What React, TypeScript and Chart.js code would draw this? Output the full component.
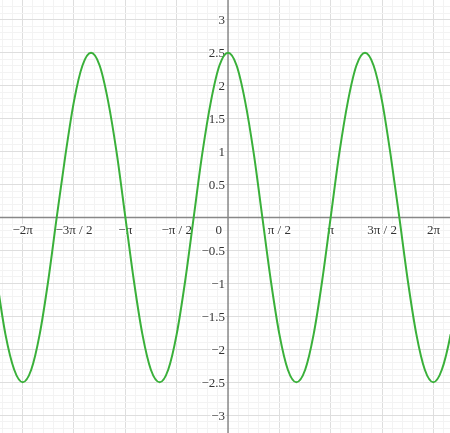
import React, { useRef, useEffect } from 'react';
import { Chart, registerables } from 'chart.js';

Chart.register(...registerables);

// curve samples (x in radians)
const xValues = [
  -7.07, -6.81, -6.54, -6.28, -6.02, -5.76, -5.5, -5.24, -4.97, -4.71, -4.45, -4.19, -3.93, -3.67,
  -3.4, -3.14, -2.88, -2.62, -2.36, -2.09, -1.83, -1.57, -1.31, -1.05, -0.79, -0.52, -0.26, 0,
  0.26, 0.52, 0.79, 1.05, 1.31, 1.57, 1.83, 2.09, 2.36, 2.62, 2.88, 3.14, 3.4, 3.67,
  3.93, 4.19, 4.45, 4.71, 4.97, 5.24, 5.5, 5.76, 6.02, 6.28, 6.54, 6.81, 7.07,
];
const yValues = [
  -0.96, -1.77, -2.31, -2.5, -2.31, -1.77, -0.96, 0, 0.96, 1.77, 2.31, 2.5, 2.31, 1.77,
  0.96, 0, -0.96, -1.77, -2.31, -2.5, -2.31, -1.77, -0.96, 0, 0.96, 1.77, 2.31, 2.5,
  2.31, 1.77, 0.96, 0, -0.96, -1.77, -2.31, -2.5, -2.31, -1.77, -0.96, 0, 0.96, 1.77,
  2.31, 2.5, 2.31, 1.77, 0.96, 0, -0.96, -1.77, -2.31, -2.5, -2.31, -1.77, -0.96,
];

// axis labels (x positions in multiples of pi)
const xTickPi = [-2, -1.5, -1, -0.5, 0.5, 1, 1.5, 2];
const xTickLabels = ['−2π', '−3π / 2', '−π', '−π / 2', 'π / 2', 'π', '3π / 2', '2π'];
const yTickValues = [-3, -2.5, -2, -1.5, -1, -0.5, 0.5, 1, 1.5, 2, 2.5, 3];
const yTickLabels = ['−3', '−2.5', '−2', '−1.5', '−1', '−0.5', '0.5', '1', '1.5', '2', '2.5', '3'];

const X_MIN = -6.975;
const X_MAX = 6.79;
const Y_MIN = -3.27;
const Y_MAX = 3.3;

const FONT = '13px "Liberation Serif", "Times New Roman", serif';

const gridColor = (ctx: any) => {
  const i = Math.round(ctx.tick.value / ctx.scale.options.minorStep);
  if (i === 0) return 'rgba(0,0,0,0)';
  return i % 5 === 0 ? '#dedede' : '#f3f3f3';
};

const buildGrid = (step: number) => (scale: any) => {
  const ticks = [];
  const from = Math.ceil(scale.min / step);
  const to = Math.floor(scale.max / step);
  for (let i = from; i <= to; i++) ticks.push({ value: i * step });
  scale.ticks = ticks;
};

const axesPlugin = {
  id: 'graphAxes',
  beforeDatasetsDraw(chart: any) {
    const { ctx, chartArea, scales } = chart;
    const x0 = scales.x.getPixelForValue(0);
    const y0 = scales.y.getPixelForValue(0);
    ctx.save();
    ctx.strokeStyle = '#888888';
    ctx.lineWidth = 1.5;
    ctx.beginPath();
    ctx.moveTo(chartArea.left, y0);
    ctx.lineTo(chartArea.right, y0);
    ctx.moveTo(x0, chartArea.top);
    ctx.lineTo(x0, chartArea.bottom);
    ctx.stroke();

    ctx.font = FONT;
    ctx.lineWidth = 3;
    ctx.strokeStyle = '#ffffff';
    ctx.fillStyle = '#333333';
    ctx.lineJoin = 'round';

    const label = (text: string, x: number, y: number) => {
      ctx.strokeText(text, x, y);
      ctx.fillText(text, x, y);
    };

    ctx.textAlign = 'center';
    ctx.textBaseline = 'middle';
    xTickPi.forEach((v, i) => {
      label(xTickLabels[i], scales.x.getPixelForValue(v * Math.PI), y0 + 13);
    });

    ctx.textAlign = 'right';
    yTickValues.forEach((v, i) => {
      label(yTickLabels[i], x0 - 3, scales.y.getPixelForValue(v) + 1);
    });
    label('0', x0 - 6, y0 + 13);
    ctx.restore();
  },
};

const App: React.FC = () => {
  const canvasRef = useRef<HTMLCanvasElement | null>(null);

  useEffect(() => {
    if (!canvasRef.current) return;
    const chart = new Chart(canvasRef.current, {
      type: 'line',
      data: {
        datasets: [
          {
            data: xValues.map((x, i) => ({ x, y: yValues[i] })),
            borderColor: 'rgb(58,176,58)',
            borderWidth: 2,
            pointRadius: 0,
            cubicInterpolationMode: 'monotone',
            fill: false,
          },
        ],
      },
      options: {
        animation: false,
        responsive: true,
        maintainAspectRatio: false,
        layout: { padding: 0 },
        plugins: { legend: { display: false }, tooltip: { enabled: false } },
        scales: {
          x: {
            type: 'linear',
            min: X_MIN,
            max: X_MAX,
            minorStep: Math.PI / 10,
            afterBuildTicks: buildGrid(Math.PI / 10),
            ticks: { display: false },
            border: { display: false },
            grid: { color: gridColor, drawTicks: false, lineWidth: 1 },
          } as any,
          y: {
            type: 'linear',
            min: Y_MIN,
            max: Y_MAX,
            minorStep: 0.1,
            afterBuildTicks: buildGrid(0.1),
            ticks: { display: false },
            border: { display: false },
            grid: { color: gridColor, drawTicks: false, lineWidth: 1 },
          } as any,
        },
      },
      plugins: [axesPlugin],
    });
    return () => chart.destroy();
  }, []);

  return (
    <div style={{ position: 'absolute', left: 0, top: 0, width: 450, height: 433, background: '#fff' }}>
      <canvas ref={canvasRef}></canvas>
    </div>
  );
};

export default App;
